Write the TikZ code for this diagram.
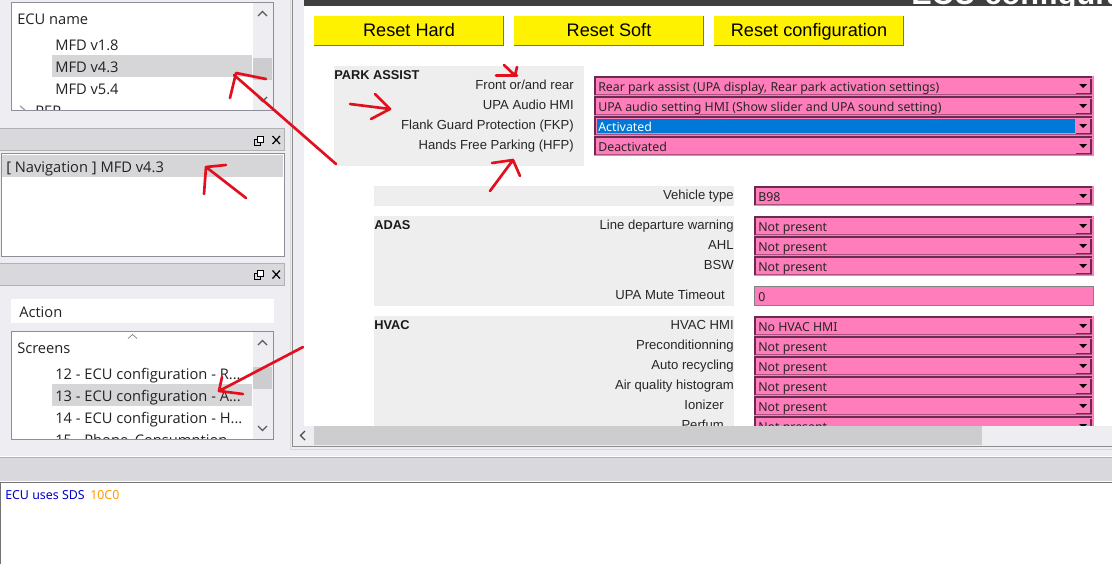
\documentclass[tikz,border=0pt]{standalone}
\usepackage{fontspec}
\setmainfont{Liberation Sans}
\newfontfamily\uifont{Open Sans}
\newfontfamily\cbfont{Noto Sans}
\definecolor{panelbg}{HTML}{EEEEF2}
\definecolor{barbg}{HTML}{D9D9DD}
\definecolor{selbg}{HTML}{D6D6D9}
\definecolor{thumb}{HTML}{CDCDCF}
\definecolor{edge}{HTML}{8E8E9A}
\definecolor{pinkc}{HTML}{FF7DBB}
\definecolor{pinkd}{HTML}{6B2A50}
\definecolor{blockbg}{HTML}{EEEEEE}
\definecolor{selblue}{HTML}{0078D7}
\definecolor{arrowred}{HTML}{E2101E}
\definecolor{titledark}{HTML}{3F3F3F}
\definecolor{uitext}{HTML}{222222}
\tikzset{
  uitxt/.style={anchor=base west,inner sep=0pt,text=uitext,font=\uifont\fontsize{11}{12}\selectfont},
  lbl/.style={anchor=base east,inner sep=0pt,text=black!85,font=\fontsize{9.83}{11}\selectfont},
  head/.style={anchor=base west,inner sep=0pt,text=black!90,font=\bfseries\fontsize{9.6}{11}\selectfont},
  cbtxt/.style={anchor=base west,inner sep=0pt,text=black!85,font=\cbfont\fontsize{9.26}{10}\selectfont},
  btntxt/.style={anchor=base,inner sep=0pt,text=black,font=\fontsize{13.6}{15}\selectfont},
  logtxt/.style={anchor=base west,inner sep=0pt,font=\cbfont\fontsize{9.3}{10}\selectfont},
  redline/.style={draw=arrowred,line width=2pt,line cap=round,line join=round},
  chev/.style={draw=black!65,line width=1pt},
  framebox/.style={draw=edge,line width=0.75pt},
  icon/.style={draw=black,line width=0.7pt}
}
% #1 name, #2 left x, #3 top y, #4 text
\newcommand{\combo}[4]{%
  \fill[pinkc] (#2,#3) rectangle (1094,#3+20);
  \fill[pinkd] (#2,#3) rectangle (1092,#3+1.6);
  \fill[pinkd] (#2,#3) rectangle (#2+1.6,#3+19);
  \fill[pinkd!55!pinkc] (#2+1.6,#3+18) rectangle (1092,#3+19);
  \fill[pinkd] (1076,#3+16.6) rectangle (1091.5,#3+17.8);
  \fill[pinkd] (1090.3,#3+3) rectangle (1091.5,#3+17.8);
  \fill[black] (1079,#3+8) -- (1087,#3+8) -- (1083,#3+12) -- cycle;
  \node[cbtxt] (#1) at (#2+4,#3+15) {#4};%
}
\newcommand{\winicons}[1]{%
  \draw[icon] (254.5,#1-1) rectangle (260.5,#1+5);
  \fill[white] (257,#1-4) rectangle (263,#1+2);
  \draw[icon] (257,#1-4) rectangle (263,#1+2);
  \draw[icon,line width=0.9pt] (272.5,#1-4) -- (280,#1+4) (280,#1-4) -- (272.5,#1+4);%
}
\begin{document}
\begin{tikzpicture}[x=0.75pt,y=-0.75pt]
\useasboundingbox (0,0) rectangle (1112,564);
\fill[white] (0,0) rectangle (1112,564);
% left panel background
\fill[panelbg] (0,0) rectangle (304,456);
\fill[panelbg] (293,426) rectangle (1112,456);
% ECU tree
\fill[white] (11.5,2.5) rectangle (273.5,110);
\fill[panelbg] (253,3) rectangle (273,110);
\fill[thumb] (253,58) rectangle (272,80);
\fill[selbg] (52,55) rectangle (252,77);
\begin{scope}
  \clip (12,3) rectangle (273,110);
  \node[uitxt] (ecuname) at (17,24) {ECU name};
  \node[uitxt] (mfd18) at (55,50) {MFD v1.8};
  \node[uitxt] (mfd43) at (55,72) {MFD v4.3};
  \node[uitxt] (mfd54) at (55,94) {MFD v5.4};
  \node[uitxt] (pep) at (35,116) {PEP};
  \draw[draw=black!35,line width=1pt] (20,106) -- (25,110);
  \draw[chev] (258,16) -- (262.5,11.5) -- (267,16);
  \draw[chev] (258,97) -- (262.5,101.5) -- (267,97);
\end{scope}
\draw[framebox] (11.5,2.5) rectangle (273.5,110);
% navigation panel
\fill[barbg] (0,128.5) rectangle (284.5,150.5);
\draw[draw=black!30,line width=0.75pt] (0,128.5) -- (284.5,128.5) -- (284.5,150.5) -- (0,150.5);
\winicons{140}
\fill[white] (1,153.5) rectangle (284.5,256.5);
\fill[selbg] (2,155) rectangle (283,177);
\draw[framebox] (1,153.5) rectangle (284.5,256.5);
\node[uitxt] (navitem) at (6,172) {[ Navigation ] MFD v4.3};
% action panel
\fill[barbg] (0,263.5) rectangle (284.5,285.5);
\draw[draw=black!30,line width=0.75pt] (0,263.5) -- (284.5,263.5) -- (284.5,285.5) -- (0,285.5);
\winicons{274.5}
\fill[white] (11,299) rectangle (274,323);
\node[uitxt] (action) at (19,317) {Action};
\fill[white] (11.5,331.5) rectangle (273.5,439);
\fill[panelbg] (253,332) rectangle (273,439);
\fill[thumb] (253,367) rectangle (272,389);
\fill[selbg] (52,384) rectangle (252,406);
\begin{scope}
  \clip (12,332) rectangle (273,439);
  \node[uitxt] (screens) at (17,353) {Screens};
  \node[uitxt] (s12) at (55,379) {12 - ECU configuration - R...};
  \node[uitxt] (s13) at (55,401) {13 - ECU configuration - A...};
  \node[uitxt] (s14) at (55,423) {14 - ECU configuration - H...};
  \node[uitxt] (s15) at (55,445) {15 - Phone\_Consumption};
  \draw[draw=black!45,line width=0.6pt] (128,338.5) -- (132.5,334.5) -- (137,338.5);
  \draw[chev] (258,345) -- (262.5,340.5) -- (267,345);
  \draw[chev] (258,426) -- (262.5,430.5) -- (267,426);
\end{scope}
\draw[framebox] (11.5,331.5) rectangle (273.5,439);
% right area
\fill[white] (293,0) rectangle (1112,426);
\fill[panelbg] (293,0) rectangle (304,426);
\draw[draw=black!45,line width=0.75pt] (292.5,0) -- (292.5,446.5) -- (1112,446.5);
\draw[draw=black!15,line width=0.75pt] (290,0) -- (290,449) -- (1112,449);
\fill[titledark] (304,0) rectangle (1112,6);
\begin{scope}
  \clip (304,0) rectangle (1112,6);
  \node[anchor=base west,inner sep=0pt,text=white,font=\bfseries\fontsize{23}{26}\selectfont] (title) at (911,4) {ECU configuration};
\end{scope}
% buttons
\foreach \bx/\bn/\bt in {314/rh/Reset Hard,514/rs/Reset Soft,714/rc/Reset configuration}{
  \fill[black!60!yellow] (\bx,16) rectangle (\bx+190,46);
  \fill[yellow] (\bx,16) rectangle (\bx+188.5,44.5);
  \node[btntxt] (\bn) at (\bx+95,36.5) {\bt};
}
\begin{scope}
  \clip (304,6) rectangle (1112,425.5);
  % grey blocks
  \fill[blockbg] (334,66) rectangle (584,166);
  \fill[blockbg] (374,186) rectangle (734,206);
  \fill[blockbg] (374,216) rectangle (734,306);
  \fill[blockbg] (374,316) rectangle (734,430);
  % park assist
  \node[head] (parkh) at (334,79) {PARK ASSIST};
  \node[lbl] (l1) at (574,89) {Front or/and rear};
  \node[lbl] (l2) at (574,109) {UPA Audio HMI};
  \node[lbl] (l3) at (574,129) {Flank Guard Protection (FKP)};
  \node[lbl] (l4) at (574,149) {Hands Free Parking (HFP)};
  \combo{c1}{594}{76}{Rear park assist (UPA display, Rear park activation settings)}
  \combo{c2}{594}{96}{UPA audio setting HMI (Show slider and UPA sound setting)}
  \combo{c3}{594}{116}{}
  \fill[selblue] (597,119) rectangle (1075,133);
  \node[cbtxt,text=white] (c3t) at (598,131) {Activated};
  \combo{c4}{594}{136}{Deactivated}
  % vehicle
  \node[lbl] (lv) at (734,199) {Vehicle type};
  \combo{cv}{754}{186}{B98}
  % adas
  \node[head] (adash) at (374,229) {ADAS};
  \node[lbl] (la1) at (734,229) {Line departure warning};
  \node[lbl] (la2) at (734,249) {AHL};
  \node[lbl] (la3) at (734,269) {BSW};
  \node[lbl] (la4) at (725,299) {UPA Mute Timeout};
  \combo{ca1}{754}{216}{Not present}
  \combo{ca2}{754}{236}{Not present}
  \combo{ca3}{754}{256}{Not present}
  \fill[pinkc] (754.5,286.5) rectangle (1093.5,305.5);
  \draw[draw=black!50,line width=0.75pt] (754.5,286.5) rectangle (1093.5,305.5);
  \node[cbtxt] (cmute) at (758,301) {0};
  % hvac
  \node[head] (hvach) at (374,329) {HVAC};
  \node[lbl] (lh1) at (734,329) {HVAC HMI};
  \node[lbl] (lh2) at (734,349) {Preconditionning};
  \node[lbl] (lh3) at (734,369) {Auto recycling};
  \node[lbl] (lh4) at (734,389) {Air quality histogram};
  \node[lbl] (lh5) at (724,409) {Ionizer};
  \node[lbl] (lh6) at (724,429) {Perfum};
  \combo{ch1}{754}{316}{No HVAC HMI}
  \combo{ch2}{754}{336}{Not present}
  \combo{ch3}{754}{356}{Not present}
  \combo{ch4}{754}{376}{Not present}
  \combo{ch5}{754}{396}{Not present}
  \combo{ch6}{754}{416}{Not present}
\end{scope}
% horizontal scrollbar
\fill[panelbg] (293,426) rectangle (1112,446);
\fill[thumb] (314,426) rectangle (982,445);
\draw[draw=black!70,line width=1pt] (305,431) -- (300.5,435.5) -- (305,440);
\draw[draw=black!45,line width=0.75pt] (292.5,426) -- (292.5,446.5) -- (1112,446.5);
% status strip and log
\fill[barbg] (0,457.5) rectangle (1112,481);
\draw[draw=black!30,line width=0.75pt] (0,457.5) -- (1112,457.5);
\fill[white] (0,482) rectangle (1112,564);
\draw[draw=black!55,line width=0.75pt] (0.4,564) -- (0.4,482) -- (1112,482);
\node[logtxt,text=blue!80!black] (log1) at (5,499) {ECU uses SDS};
\node[logtxt,text=orange!80!yellow] (log2) at (90,499) {10C0};
% red annotations
\draw[redline] (336,164) -- (234,75) (230,98) -- (236,73) -- (266,79);
\draw[redline] (246,198) -- (206,167) (204,194) -- (206,167) -- (226,165);
\draw[redline] (303,347) -- (219,391) (222,377) -- (219,391) -- (243,394);
\draw[redline] (496,75.5) -- (517,75.5) (504,65) -- (515,75.5) -- (517,67);
\draw[redline] (350,104) -- (390,109) (375,94) -- (390,109) -- (371,119);
\draw[redline] (490,191) -- (513,160) (492,163) -- (513,160) -- (520,176);
\end{tikzpicture}
\end{document}
